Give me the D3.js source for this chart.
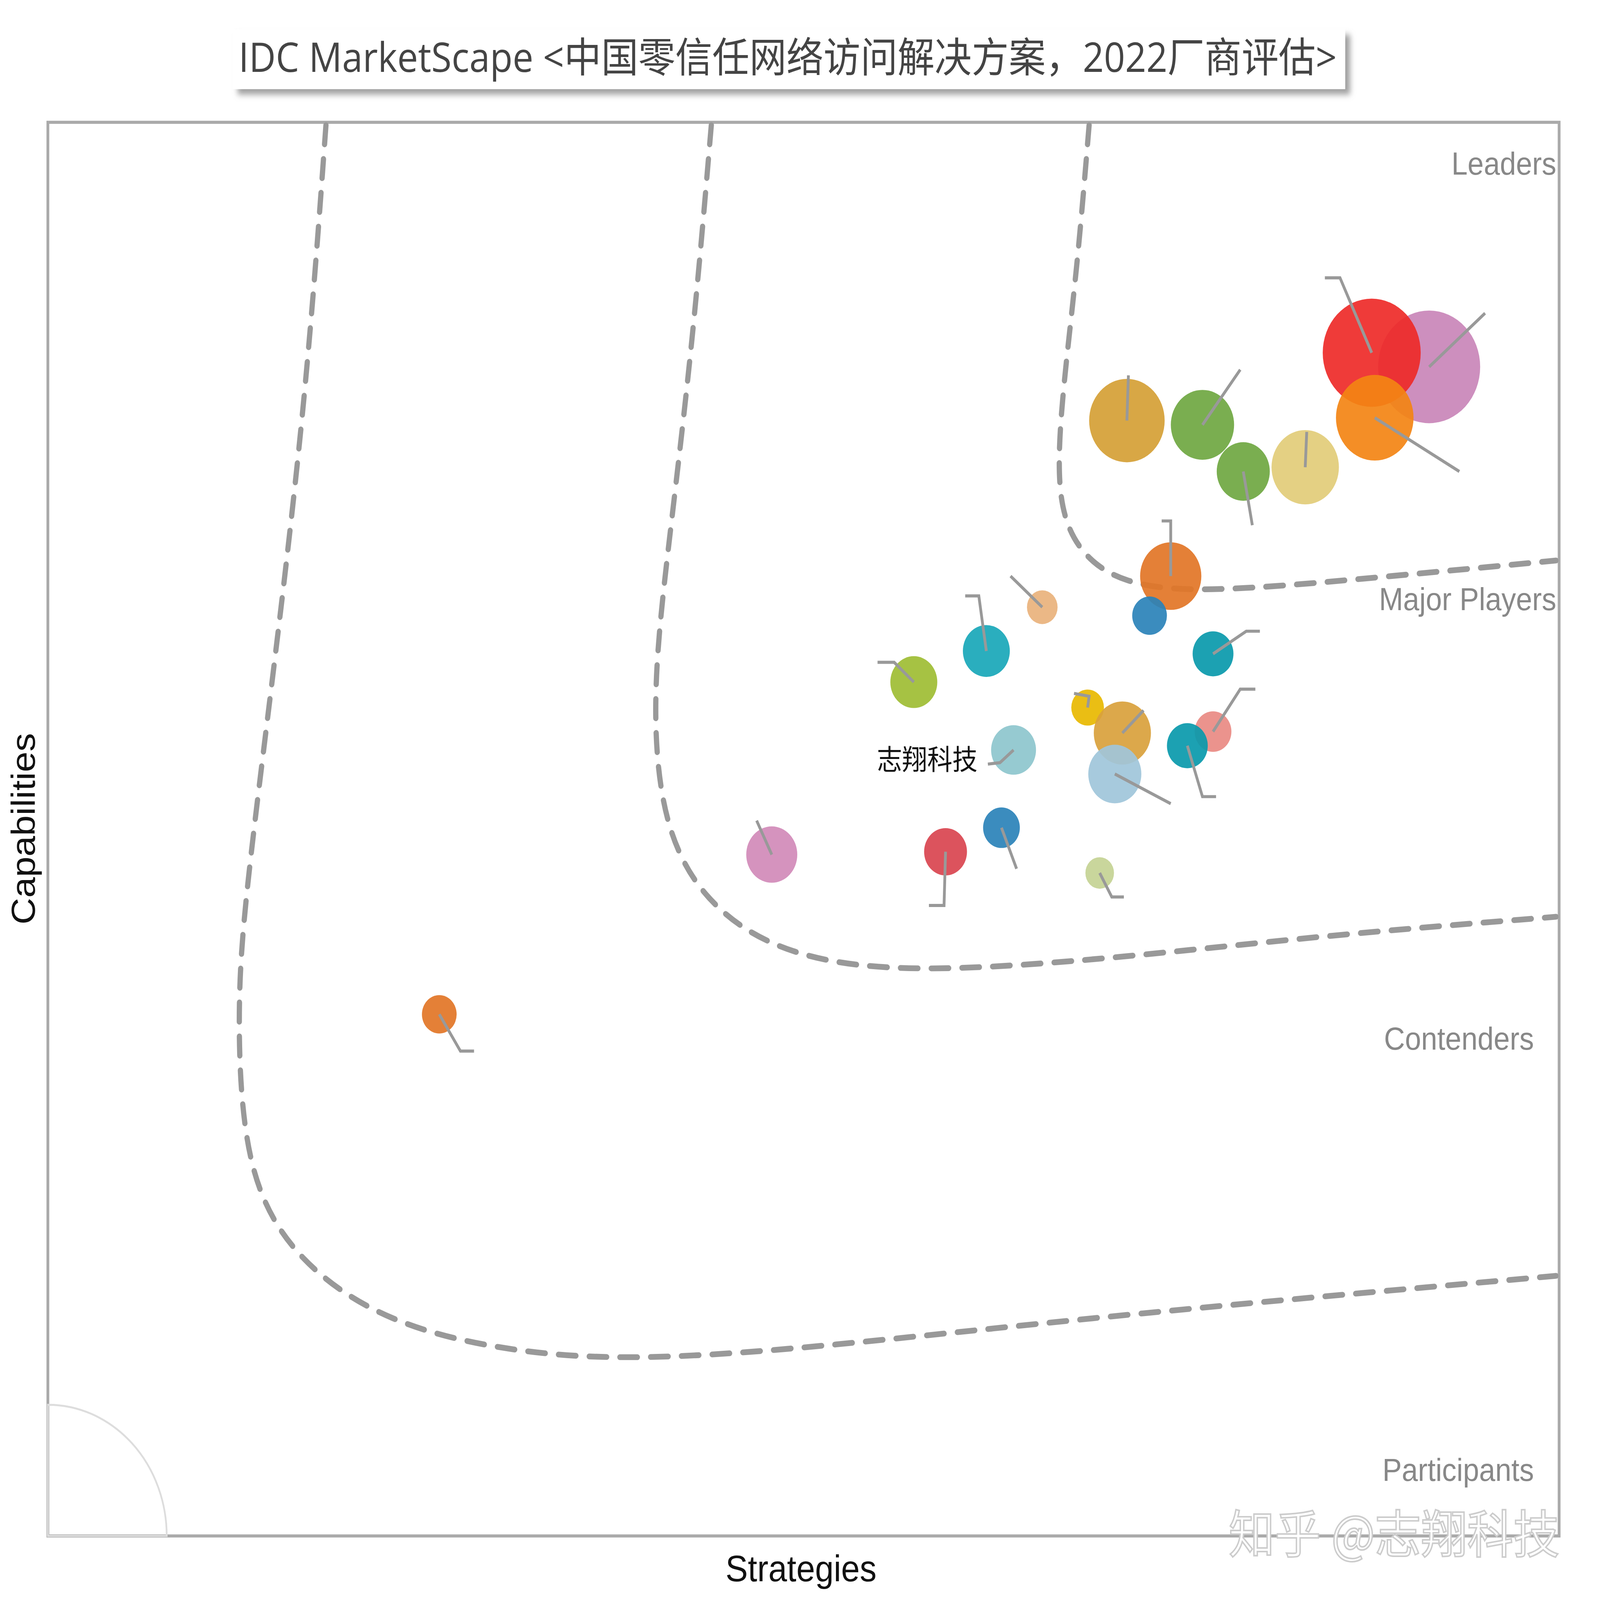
<!DOCTYPE html>
<html><head><meta charset="utf-8">
<script src="https://cdn.jsdelivr.net/npm/d3@7"></script>
<style>html,body{margin:0;padding:0;overflow:hidden;background:#fff}svg{display:block;width:100vw;height:100vh}</style>
</head><body>
<script>
// ---- data (strategies x, capabilities y, 0-100; size = relative bubble size) ----
const vendors = ["v1","v2","v3","v4","v5","v6","v7","v8","v9","v10","v11","v12","v13","v14","v15","v16","v17","志翔科技","v19","v20","v21","v22","v23","v24"];
const strategies   = [91.4,87.6,87.8,71.4,76.4,79.1,83.2,74.3,72.9,65.8,62.1,57.3,77.1,68.8,71.1,70.6,75.4,63.9,47.9,59.4,63.1,69.6,25.9,77.1];
const capabilities = [82.7,83.7,79.1,78.9,78.6,75.3,75.6,67.9,65.1,65.7,62.6,60.4,62.4,58.6,56.8,53.9,55.9,55.6,48.2,48.4,50.1,46.9,36.9,56.9];
const sizes        = [50,48,38,37,31,26,33,30,17,15,23,23,20,16,28,26,20,22,25,21,18,14,17,18];
const colors = ["#c985b8","#ee2a28","#f38414","#d5a035","#6fa741","#6fa741","#e2cc78","#e27526","#2a82b8","#e9b27c","#18a7b9","#9ebd33","#0999ab","#e8b900","#d9a13c","#9fc5da","#0999ab","#8dc5cd","#d18ab9","#d9444f","#2a82b8","#c4d394","#e27526","#e98a83"];
// leader lines: polyline points in value space (starting from bubble centre)
const leaders = [
  [[95.1,86.5]],[[85.5,89.0],[84.5,89.0]],[[93.4,75.3]],[[71.5,82.1]],[[78.9,82.5]],[[79.7,71.5]],[[83.3,78.1]],
  [[74.3,71.8],[73.7,71.8]],[],[[63.7,67.9]],[[61.6,66.5],[60.7,66.5]],[[56.0,61.8],[54.9,61.8]],
  [[79.3,64.0],[80.2,64.0]],[[68.9,59.4],[67.9,59.6]],[[72.5,58.4]],[[74.3,51.8]],[[76.4,52.3],[77.3,52.3]],
  [[63.0,54.7],[62.2,54.6]],[[46.9,50.6]],[[59.3,44.6],[58.3,44.6]],[[64.1,47.2]],[[70.4,45.2],[71.2,45.2]],
  [[27.3,34.3],[28.2,34.3]],[[78.9,59.9],[79.9,59.9]]
];
const curveLeaders = [[68.9,99.8],[68.1,89.5],[67.1,80.7],[66.7,73.5],[68.1,69.6],[71.1,67.3],[76.5,66.7],[88.0,67.8],[99.8,69.0]];
const curveMajor = [[43.9,99.8],[42.7,84.7],[41.1,70.3],[39.9,59.2],[40.7,49.6],[44.1,44.0],[49.5,40.8],[57.6,39.8],[71.1,40.9],[84.6,42.5],[99.8,43.8]];
const curveContenders = [[18.4,99.8],[17.1,80.7],[14.9,60.8],[13.0,44.8],[12.5,36.9],[13.0,25.7],[16.4,19.4],[22.5,15.0],[30.6,13.0],[38.7,12.4],[50.8,13.3],[71.1,15.7],[99.8,18.4]];
const zones = ["Leaders","Major Players","Contenders","Participants"];
const zoneY = [96.3,65.5,34.4,3.9];

const W=4578,H=4147, L=137,R=4461,T=317,B=3981;
const svg=d3.select("body").append("svg").attr("viewBox",`0 0 ${W} ${H}`).attr("preserveAspectRatio","none");
const x=d3.scaleLinear().domain([0,100]).range([L,R]);
const y=d3.scaleLinear().domain([0,100]).range([B,T]);
const r=d3.scaleLinear().domain([0,1]).range([0,2.92]);

// title
const defs=svg.append("defs");
const f=defs.append("filter").attr("id","sh").attr("x","-5%").attr("y","-20%").attr("width","115%").attr("height","160%");
f.append("feDropShadow").attr("dx",14).attr("dy",14).attr("stdDeviation",8).attr("flood-color","#888").attr("flood-opacity",0.8);
svg.append("rect").attr("x",666).attr("y",76).attr("width",3183).attr("height",155).attr("fill","#fff").attr("filter","url(#sh)");
svg.append("text").attr("x",3825).attr("y",186).attr("text-anchor","end").attr("font-family","'Open Sans','Noto Sans CJK SC'").attr("font-size",106).attr("fill","#444")
  .text("IDC MarketScape <中国零信任网络访问解决方案，2022厂商评估>");

// frame
svg.append("rect").attr("x",L).attr("y",T).attr("width",R-L).attr("height",B-T).attr("fill","none").attr("stroke","#aaa").attr("stroke-width",8);
svg.append("path").attr("d",d3.arc()({innerRadius:0,outerRadius:340,startAngle:0,endAngle:Math.PI/2})).attr("transform",`translate(${L},${B})`).attr("fill","none").attr("stroke","#ddd").attr("stroke-width",5);

// dashed curves
const line=d3.line().x(d=>x(d[0])).y(d=>y(d[1])).curve(d3.curveBasis);
[curveLeaders,curveMajor,curveContenders].forEach(c=>{
  svg.append("path").attr("d",line(c)).attr("fill","none").attr("stroke","#999").attr("stroke-width",15).attr("stroke-dasharray","50,38").attr("stroke-linecap","round");
});

// zone labels
zones.forEach((z,i)=>svg.append("text").attr("x",i<2?R-8:4389).attr("y",y(zoneY[i])).attr("text-anchor","end").attr("font-family","'Liberation Sans',Arial").attr("font-size",83).attr("fill","#888").text(z));

// axis labels
svg.append("text").attr("x",2292).attr("y",4098).attr("text-anchor","middle").attr("font-family","'Liberation Sans',Arial").attr("font-size",96).attr("fill","#111").text("Strategies");
svg.append("text").attr("transform","translate(100,2148) rotate(-90)").attr("text-anchor","middle").attr("font-family","'Liberation Sans',Arial").attr("font-size",96).attr("fill","#111").text("Capabilities");

// bubbles
const data=vendors.map((v,i)=>({v,x:strategies[i],y:capabilities[i],s:sizes[i],c:colors[i],l:leaders[i]}));
const order=[0,1,2,3,4,5,6,7,8,9,10,11,12,13,23,14,15,16,17,18,19,20,21,22];
const g=svg.append("g");
order.forEach(i=>{const d=data[i];
  g.append("circle").attr("cx",x(d.x)).attr("cy",y(d.y)).attr("r",r(d.s)).attr("fill",d.c).attr("opacity",0.92);
});
order.forEach(i=>{const d=data[i]; if(!d.l.length) return;
  g.append("path").attr("d",d3.line().x(p=>x(p[0])).y(p=>y(p[1]))([[d.x,d.y],...d.l])).attr("fill","none").attr("stroke","#999").attr("stroke-width",8);
});
svg.append("text").attr("x",2797).attr("y",1995).attr("text-anchor","end").attr("font-family","'Noto Sans CJK SC'").attr("font-size",72).attr("fill","#111").text("志翔科技");

// watermark
svg.append("text").attr("x",4462).attr("y",4025).attr("text-anchor","end").attr("font-family","'Noto Sans CJK SC'").attr("font-size",132).attr("fill","#fff").attr("stroke","#ccc").attr("stroke-width",4).text("知乎 @志翔科技");
</script>
</body></html>
